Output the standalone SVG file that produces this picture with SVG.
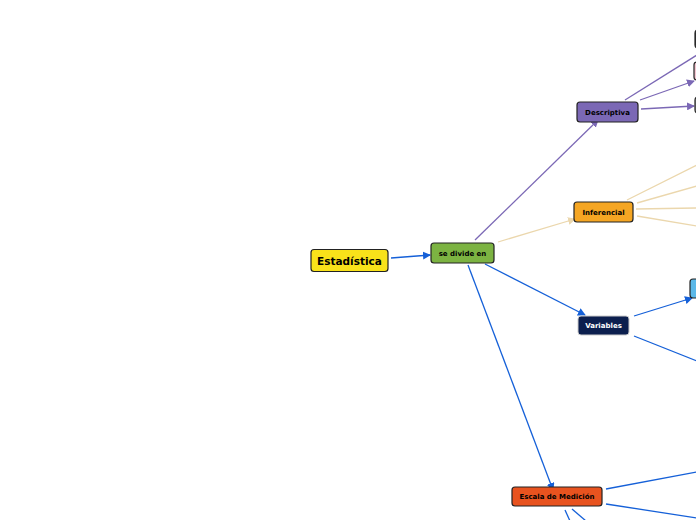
<svg xmlns="http://www.w3.org/2000/svg" width="696" height="520" viewBox="0 0 696 520">
<style>
.n{stroke:#222;stroke-width:1.2}
.t{font-family:"DejaVu Sans",sans-serif;font-weight:bold;text-anchor:middle;dominant-baseline:central}
.b{stroke:#1560d8;stroke-width:1.3;fill:none}
.p{stroke:#7b68b5;stroke-width:1.3;fill:none}
.y{stroke:#ebd7ad;stroke-width:1.3;fill:none}
</style>
<defs>
<marker id="ab" markerWidth="8" markerHeight="8" refX="7" refY="4" orient="auto" markerUnits="userSpaceOnUse"><path d="M0,0L8,4L0,8z" fill="#1560d8"/></marker>
<marker id="ap" markerWidth="8" markerHeight="8" refX="7" refY="4" orient="auto" markerUnits="userSpaceOnUse"><path d="M0,0L8,4L0,8z" fill="#7b68b5"/></marker>
<marker id="ay" markerWidth="8" markerHeight="8" refX="7" refY="4" orient="auto" markerUnits="userSpaceOnUse"><path d="M0,0L8,4L0,8z" fill="#ebd7ad"/></marker>
</defs>
<g id="connectors">
<path class="b" d="M391,258L430,255" marker-end="url(#ab)"/>
<path class="p" d="M475,240L598,120" marker-end="url(#ap)"/>
<path class="y" d="M498,242L575,219" marker-end="url(#ay)"/>
<path class="b" d="M485,264L585,315" marker-end="url(#ab)"/>
<path class="b" d="M468,265L553,490" marker-end="url(#ab)"/>
<path class="p" d="M625,100L697,55"/>
<path class="p" d="M640,100L694,81" marker-end="url(#ap)"/>
<path class="p" d="M641,109L694,106" marker-end="url(#ap)"/>
<path class="y" d="M627,200L697,165"/>
<path class="y" d="M637,203L697,186"/>
<path class="y" d="M636,209L697,208"/>
<path class="y" d="M637,216L697,226"/>
<path class="b" d="M634,316L692,298" marker-end="url(#ab)"/>
<path class="b" d="M634,336L697,361"/>
<path class="b" d="M606,489L697,472"/>
<path class="b" d="M606,504L697,518"/>
<path class="b" d="M565,510L570,521"/>
<path class="b" d="M572,509L586,521"/>
</g>
<g id="n-est"><rect class="n" x="311" y="249.5" width="77" height="22" rx="3" fill="#f9e21a"/><text class="t" x="349.5" y="261" font-size="10.5">Estadística</text></g>
<g id="n-se"><rect class="n" x="431" y="243" width="63" height="20" rx="3" fill="#7cb342"/><text class="t" x="462.5" y="253.5" font-size="7">se divide en</text></g>
<g id="n-desc"><rect class="n" x="577" y="102" width="61" height="20" rx="3" fill="#7b68b5"/><text class="t" x="607.5" y="112.5" font-size="7">Descriptiva</text></g>
<g id="n-inf"><rect class="n" x="574" y="202" width="59" height="20" rx="3" fill="#f5a623"/><text class="t" x="603.5" y="212.5" font-size="7">Inferencial</text></g>
<g id="n-var"><rect x="578" y="316" width="51" height="19" rx="3" fill="#0c1f4e" stroke="#ccc" stroke-width="1"/><text class="t" x="603.5" y="325.5" font-size="7" fill="#fff">Variables</text></g>
<g id="n-esc"><rect class="n" x="512" y="487" width="90" height="19" rx="3" fill="#e8531f"/><text class="t" x="557" y="497" font-size="7">Escala de Medición</text></g>
<g id="n-r1"><rect class="n" x="695" y="30" width="20" height="18" rx="3" fill="#333"/></g>
<g id="n-r2"><rect class="n" x="694" y="62" width="20" height="18" rx="3" fill="#f4c6d0"/></g>
<g id="n-r3"><rect class="n" x="695" y="97" width="20" height="16" rx="3" fill="#999"/></g>
<g id="n-r4"><rect class="n" x="690" y="279" width="20" height="19" rx="3" fill="#5bb8e8"/></g>
</svg>
